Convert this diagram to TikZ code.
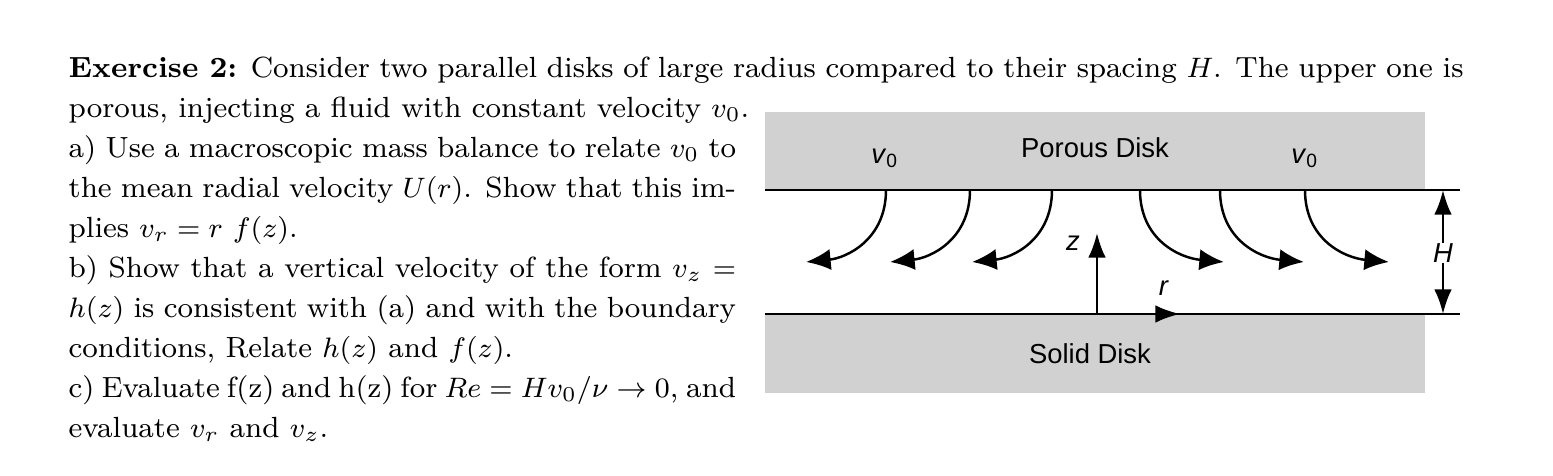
\documentclass[tikz,border=0pt]{standalone}
\usepackage{fontspec}
\setsansfont{Liberation Sans}
\usetikzlibrary{arrows.meta}
\begin{document}
\begin{tikzpicture}[x=0.01cm,y=-0.01cm,
  txt/.style={anchor=base west,inner sep=0pt,font=\fontsize{8.3}{10}\selectfont},
  lbl/.style={font=\sffamily\fontsize{7.8}{9}\selectfont,inner sep=0pt},
  disk/.style={fill=black!18,draw=none},
  flow/.style={line width=0.7pt,-{Latex[length=7pt,width=6pt]}},
  ax/.style={line width=0.7pt,-{Latex[length=7pt,width=5pt]}}]
\useasboundingbox (0,0) rectangle (1553,476);
\node[txt] (l1) at (68,78) {\makebox[13.94cm][s]{\textbf{Exercise 2:} Consider two parallel disks of large radius compared to their spacing $H$. The upper one is}};
\node[txt] (l2) at (68,118) {porous, injecting a fluid with constant velocity $v_0$.};
\node[txt] (l3) at (68,158) {\makebox[6.67cm][s]{a) Use a macroscopic mass balance to relate $v_0$ to}};
\node[txt] (l4) at (68,198) {\makebox[6.67cm][s]{the mean radial velocity $U(r)$. Show that this im-}};
\node[txt] (l5) at (68,238) {plies $v_r=r\ f(z)$.};
\node[txt] (l6) at (68,278) {\makebox[6.67cm][s]{b) Show that a vertical velocity of the form $v_z$ $=$}};
\node[txt] (l7) at (68,318) {\makebox[6.67cm][s]{$h(z)$ is consistent with (a) and with the boundary}};
\node[txt] (l8) at (68,358) {conditions, Relate $h(z)$ and $f(z)$.};
\node[txt] (l9) at (68,398) {\makebox[6.67cm][s]{c) Evaluate f(z) and h(z) for $Re=Hv_0/\nu\to0$, and}};
\node[txt] (l10) at (68,438) {evaluate $v_r$ and $v_z$.};
% disks
\fill[disk] (765,112) rectangle (1425,190);
\fill[disk] (765,314) rectangle (1425,393);
\draw[line width=0.7pt] (765,190) -- (1460,190);
\draw[line width=0.7pt] (765,314) -- (1460,314);
\node[lbl] (pd) at (1095,148) {Porous Disk};
\node[lbl] (sd) at (1090,354) {Solid Disk};
\node[lbl] (v1) at (885,158) {\textit{v}\textsubscript{0}};
\node[lbl] (v2) at (1305,158) {\textit{v}\textsubscript{0}};
% curved arrows
\foreach \x in {886,970,1052}{
  \draw[flow] (\x,190) .. controls (\x,240) and (\x-40,258) .. (\x-80,262);}
\foreach \x in {1140,1220,1305}{
  \draw[flow] (\x,190) .. controls (\x,240) and (\x+40,258) .. (\x+84,262);}
% axes
\coordinate (o) at (1097,314);
\coordinate (zt) at (1097,233);
\coordinate (rt) at (1180,314);
\draw[ax] (o) -- (zt);
\draw[ax] (o) -- (rt);
\node[lbl] (z) at (1073,243) {\textit{z}};
\node[lbl] (r) at (1164,288) {\textit{r}};
% H
\node[lbl] (H) at (1443,253) {\textit{H}};
\coordinate (ht) at (1443,190);
\coordinate (hb) at (1443,314);
\draw[ax] (H) -- (ht);
\draw[ax] (H) -- (hb);
\draw[line width=0.7pt] (1430,190) -- (1456,190) (1430,314) -- (1456,314);
\end{tikzpicture}
\end{document}
